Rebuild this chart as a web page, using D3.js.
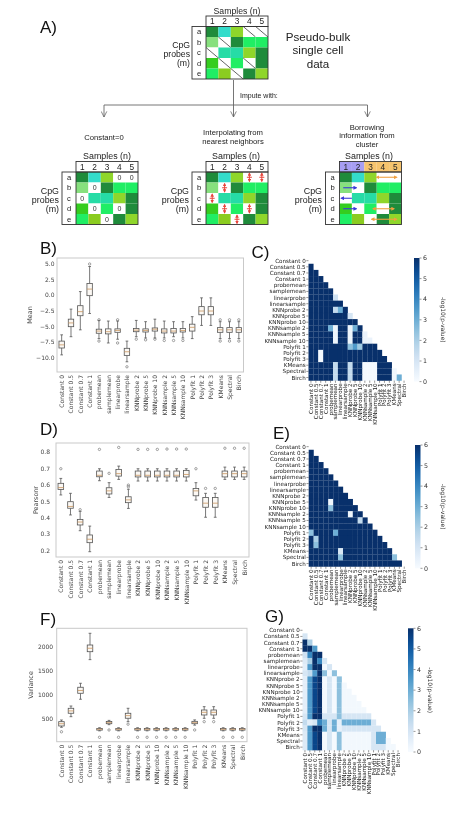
<!DOCTYPE html>
<html>
<head>
<meta charset="utf-8">
<script src="https://cdn.jsdelivr.net/npm/d3@7"></script>
<style>
  body { margin: 0; background: #fff; }
  svg { display: block; filter: blur(0.3px); }
</style>
</head>
<body>
<svg id="fig" width="474" height="820"></svg>
<script>
// imputation methods, same order on every axis
const methods = ['Constant 0', 'Constant 0.5', 'Constant 0.7', 'Constant 1', 'probemean', 'samplemean',
  'linearprobe', 'linearsample', 'KNNprobe 2', 'KNNprobe 5', 'KNNprobe 10', 'KNNsample 2', 'KNNsample 5',
  'KNNsample 10', 'Polyfit 1', 'Polyfit 2', 'Polyfit 3', 'KMeans', 'Spectral', 'Birch'];

// toy matrix of panel A
const sampleIds = ['1', '2', '3', '4', '5'];
const probeIds = ['a', 'b', 'c', 'd', 'e'];
const toyLevels = [
  [0, 1, 2, null, null],
  [3, null, 0, 4, 4],
  [null, 5, 5, 2, 0],
  [6, null, 4, null, 0],
  [4, 7, null, 0, 2]
];
const sampleCluster = [0, 0, 1, 1, 1];
// borrowing arrows: row, from, to (column units), double headed, cluster
const borrowArrows = [
  [0, 3.0, 4.6, true, 1],
  [1, 0.3, 1.35, false, 0],
  [2, 1.0, 0.15, false, 0],
  [3, 0.3, 1.35, false, 0],
  [3, 2.7, 4.4, true, 1],
  [4, 2.6, 4.6, true, 1]
];

// box plot stats: [whisker low, q1, median, q3, whisker high]
const meanStats = [
  [-9.5, -8.4, -7.9, -7.3, -6.3], [-6.6, -5.0, -4.4, -3.8, -2.2], [-5.5, -3.25, -2.6, -1.65, 0.6],
  [-2.9, -0.05, 1.0, 1.9, 4.6], [-6.9, -6.05, -5.7, -5.4, -4.0], [-7.6, -6.15, -5.8, -5.35, -4.1],
  [-7.0, -5.9, -5.6, -5.35, -4.1], [-10.6, -9.6, -9.0, -8.45, -7.3], [-6.6, -5.8, -5.55, -5.3, -4.0],
  [-6.8, -5.85, -5.6, -5.35, -4.2], [-6.8, -5.7, -5.4, -5.2, -3.8], [-6.8, -6.0, -5.7, -5.35, -4.1],
  [-6.6, -6.0, -5.7, -5.3, -4.2], [-6.8, -5.85, -5.6, -5.3, -4.2], [-6.9, -5.7, -5.1, -4.6, -3.4],
  [-4.8, -3.1, -2.5, -1.8, -0.4], [-4.8, -3.1, -2.5, -1.8, -0.4], [-6.9, -5.9, -5.5, -5.15, -4.2],
  [-6.9, -5.9, -5.5, -5.15, -4.2], [-6.9, -5.9, -5.5, -5.15, -4.2]
];
const meanFliers = [[], [], [], [5.0], [-3.9, -7.3], [], [-3.9, -7.6], [-11.4], [-7.0], [-7.1], [-7.0],
  [-7.2], [-7.2], [-7.2], [], [], [], [-3.9, -7.3], [-3.9, -7.3], [-3.9, -7.3]];

const pearsonStats = [
  [0.54, 0.574, 0.585, 0.611, 0.641], [0.418, 0.459, 0.47, 0.499, 0.55], [0.322, 0.357, 0.375, 0.391, 0.44],
  [0.194, 0.249, 0.27, 0.296, 0.35], [0.627, 0.651, 0.66, 0.686, 0.70], [0.525, 0.546, 0.565, 0.584, 0.615],
  [0.635, 0.655, 0.67, 0.696, 0.716], [0.458, 0.493, 0.51, 0.529, 0.575], [0.625, 0.65, 0.66, 0.686, 0.70],
  [0.625, 0.65, 0.66, 0.686, 0.70], [0.625, 0.65, 0.66, 0.686, 0.70], [0.625, 0.65, 0.66, 0.686, 0.70],
  [0.625, 0.65, 0.66, 0.686, 0.70], [0.625, 0.65, 0.665, 0.69, 0.70], [0.509, 0.535, 0.565, 0.58, 0.615],
  [0.404, 0.465, 0.49, 0.525, 0.55], [0.404, 0.465, 0.49, 0.525, 0.55], [0.635, 0.65, 0.67, 0.686, 0.71],
  [0.635, 0.65, 0.67, 0.686, 0.71], [0.635, 0.65, 0.67, 0.686, 0.71]
];
const pearsonFliers = [[0.70], [], [0.45], [], [0.818], [0.672], [0.83], [0.59, 0.60], [0.818], [0.818],
  [0.818], [0.82], [0.82], [0.82], [0.70], [0.58], [0.58], [0.825], [0.825], [0.825]];

const varianceStats = [
  [315, 342, 390, 433, 468], [538, 610, 660, 715, 763], [905, 1031, 1090, 1158, 1242],
  [1740, 1907, 1980, 2048, 2295], [240, 255, 273, 290, 305], [370, 390, 412, 435, 460],
  [240, 255, 273, 290, 305], [433, 505, 560, 610, 715], [240, 255, 273, 290, 305],
  [240, 255, 273, 290, 305], [240, 255, 273, 290, 305], [240, 255, 273, 290, 305],
  [240, 255, 273, 290, 305], [240, 255, 273, 290, 305], [360, 390, 412, 440, 470],
  [504, 574, 630, 679, 749], [504, 574, 630, 679, 749], [240, 255, 273, 290, 305],
  [240, 255, 273, 290, 305], [240, 255, 273, 290, 305]
];
const varianceFliers = [[220], [], [], [], [104], [258], [104], [380], [104], [104], [104], [104], [104],
  [104], [258], [433], [433], [104], [104], [104]];

// -log10(p-value), lower triangle, row i holds columns 0..i-1
const pvalMean = [
  [],
  [6],
  [6, 6],
  [6, 6, 6],
  [6, 6, 6, 6],
  [6, 6, 6, 6, 6],
  [6, 6, 6, 6, 6, 1.2],
  [6, 6, 6, 6, 6, 6, 6],
  [6, 6, 6, 6, 6, 1.5, 3, 6],
  [6, 6, 6, 6, 6, 6, 6, 6, 1.0],
  [6, 6, 6, 6, 6, 6, 6, 6, 6, 6],
  [6, 6, 6, 6, 3, 0.3, 6, 6, 0.3, 3, 6],
  [6, 6, 6, 6, 6, 0.3, 6, 6, 0.3, 6, 6, 0.4],
  [6, 6, 6, 6, 6, 0.3, 6, 6, 0.3, 6, 6, 0.4, 0.4],
  [6, 6, 6, 6, 6, 6, 6, 6, 2.5, 3.5, 2.2, 6, 6, 6],
  [6, 6, 0.1, 6, 6, 6, 6, 6, 6, 6, 6, 6, 6, 6, 6],
  [6, 6, 0.1, 6, 6, 6, 6, 6, 6, 6, 6, 6, 6, 6, 6, 6],
  [6, 6, 6, 6, 6, 1.5, 6, 6, 1.5, 6, 6, 0.1, 0.1, 0.1, 6, 6, 6],
  [6, 6, 6, 6, 6, 1.5, 6, 6, 1.5, 6, 6, 0.1, 0.1, 0.1, 6, 6, 6, 0.2],
  [6, 6, 6, 6, 6, 1.5, 6, 6, 1.5, 6, 6, 0.1, 0.1, 0.1, 6, 6, 6, 0.2, 3]
];
const pvalPearson = [
  [],
  [6],
  [6, 6],
  [6, 6, 6],
  [6, 6, 6, 6],
  [6, 6, 6, 6, 6],
  [6, 6, 6, 6, 6, 6],
  [6, 6, 6, 6, 6, 6, 6],
  [6, 6, 6, 6, 6, 6, 6, 6],
  [6, 6, 6, 6, 0.2, 6, 6, 6, 6],
  [6, 6, 6, 6, 2.5, 6, 6, 6, 6, 6],
  [6, 6, 6, 6, 6, 6, 6, 6, 0.3, 6, 6],
  [6, 6, 6, 6, 6, 6, 6, 6, 6, 6, 1.5, 6],
  [6, 6, 6, 6, 6, 6, 6, 6, 6, 6, 6, 6, 6],
  [2.5, 6, 6, 6, 6, 3, 6, 6, 6, 6, 6, 6, 6, 6],
  [6, 2, 6, 6, 6, 6, 6, 6, 6, 6, 6, 6, 6, 6, 6],
  [6, 2.5, 6, 6, 6, 6, 6, 6, 6, 6, 6, 6, 6, 6, 6, 6],
  [6, 6, 6, 6, 6, 6, 1, 6, 6, 6, 6, 6, 6, 6, 6, 6, 6],
  [6, 6, 6, 6, 6, 6, 2.5, 6, 6, 6, 6, 6, 6, 6, 6, 6, 6, 2.5],
  [6, 6, 6, 6, 6, 6, 6, 6, 6, 6, 6, 6, 6, 6, 6, 6, 6, 6, 6]
];
const pvalVariance = [
  [],
  [1],
  [6, 2],
  [6, 6, 3.5],
  [1.2, 4, 6, 6],
  [0.8, 2, 6, 4, 1],
  [0.6, 3.5, 6, 6, 0.1, 1],
  [1, 1.5, 3.5, 6, 2.5, 0.1, 2.5],
  [0.6, 3.5, 5.5, 6, 0.1, 1, 0.1, 2.5],
  [0.6, 3.5, 5.5, 6, 0.1, 1, 0.1, 2.5, 0.15],
  [0.6, 3.5, 5.5, 6, 0.1, 1, 0.1, 2.5, 0.15, 0.15],
  [0.6, 3.5, 5.5, 6, 0.1, 1, 0.1, 2.5, 0.15, 0.15, 0.15],
  [0.6, 3.5, 5.5, 6, 0.1, 1, 0.1, 2.5, 0.15, 0.15, 0.15, 0.15],
  [0.6, 3.5, 5.5, 6, 0.1, 1, 0.1, 2.5, 0.15, 0.15, 0.15, 0.15, 0.15],
  [1, 3.5, 6, 6, 1, 1, 1, 2.5, 1, 1, 1, 1, 1, 1],
  [1.5, 0.6, 1, 4, 3, 1, 3, 0.5, 3, 3, 3, 3, 3, 3, 1],
  [1, 3.5, 6, 6, 3, 1, 3, 0.5, 1, 1, 1, 1, 1, 1, 1, 1],
  [0.8, 3.5, 5.5, 6, 0.1, 1, 0.1, 2.5, 0.15, 0.15, 0.15, 0.15, 0.15, 0.15, 1, 3, 3],
  [0.8, 3.5, 5.5, 6, 0.1, 1, 0.1, 2.5, 0.15, 0.15, 0.15, 0.15, 0.15, 0.15, 1, 3, 3, 0.15],
  [0.8, 3.5, 5.5, 6, 0.1, 1, 0.1, 2.5, 0.15, 0.15, 0.15, 0.15, 0.15, 0.15, 1, 1, 1, 0.15, 0.15]
];
const colorTicks = [0, 1, 2, 3, 4, 5, 6];

const svg = d3.select('#fig');
const defs = svg.append('defs');
const SANS = 'Liberation Sans, Arial, sans-serif';
const PLOT = 'DejaVu Sans, sans-serif';

function solidMarker(id, color) {
  defs.append('marker').attr('id', id)
    .attr('viewBox', '0 0 10 10').attr('refX', 7).attr('refY', 5)
    .attr('markerWidth', 3.6).attr('markerHeight', 3.6)
    .attr('orient', 'auto-start-reverse')
    .append('path').attr('d', 'M0,0L10,5L0,10z').attr('fill', color);
}
solidMarker('mRed', '#e8433a');
solidMarker('mBlue', '#3a3ad8');
solidMarker('mOrange', '#f0a040');
defs.append('marker').attr('id', 'mGrey')
  .attr('viewBox', '0 0 10 10').attr('refX', 9).attr('refY', 5)
  .attr('markerUnits', 'userSpaceOnUse')
  .attr('markerWidth', 7).attr('markerHeight', 7)
  .attr('orient', 'auto')
  .append('path').attr('d', 'M1,1L9,5L1,9').attr('fill', 'none')
  .attr('stroke', '#666').attr('stroke-width', 1.1);

function panelLetter(txt, x, y) {
  svg.append('text').attr('x', x).attr('y', y)
    .attr('font-family', SANS).attr('font-size', 17).attr('fill', '#111')
    .text(txt);
}

// ---------- panel A ----------
const toyColor = d3.scaleOrdinal()
  .domain(d3.range(8))
  .range(['#1f8b3b', '#34dccb', '#8fd62b', '#87e07e', '#20ee64', '#26dca6', '#35cd1f', '#8bcc20']);
const clusterColor = ['#a79ef2', '#f6c46e'];

function toyMatrix(gx, hy, mode) {
  const cw = 12.4, ch = 10.5, hh = 10.5;
  const x = d3.scaleBand().domain(sampleIds).range([gx, gx + cw * 5]);
  const y = d3.scaleBand().domain(probeIds).range([hy + hh, hy + hh + ch * 5]);
  const g = svg.append('g');
  if (mode === 'cluster') {
    g.selectAll('.hc').data(sampleIds).join('rect')
      .attr('x', d => x(d)).attr('y', hy)
      .attr('width', x.bandwidth()).attr('height', hh)
      .attr('fill', (d, i) => clusterColor[sampleCluster[i]]);
  }
  g.selectAll('.hd').data(sampleIds).join('text')
    .attr('x', d => x(d) + x.bandwidth() / 2).attr('y', hy + hh / 2 + 3)
    .attr('text-anchor', 'middle').attr('font-family', SANS).attr('font-size', 8.3)
    .attr('fill', '#222').text(d => d);
  g.selectAll('.rl').data(probeIds).join('text')
    .attr('x', gx - 7).attr('y', d => y(d) + y.bandwidth() / 2 + 2.6)
    .attr('text-anchor', 'middle').attr('font-family', SANS).attr('font-size', 7.6)
    .attr('fill', '#222').text(d => d);
  probeIds.forEach((p, r) => {
    sampleIds.forEach((s, c) => {
      const lv = toyLevels[r][c];
      g.append('rect').attr('x', x(s)).attr('y', y(p))
        .attr('width', x.bandwidth()).attr('height', y.bandwidth())
        .attr('fill', lv === null ? '#fff' : toyColor(lv));
      if (lv !== null) return;
      const cx = x(s) + x.bandwidth() / 2, cy = y(p) + y.bandwidth() / 2;
      if (mode === 'raw') {
        g.append('line').attr('x1', x(s)).attr('y1', y(p))
          .attr('x2', x(s) + x.bandwidth()).attr('y2', y(p) + y.bandwidth())
          .attr('stroke', '#222').attr('stroke-width', 0.7);
      } else if (mode === 'zero') {
        g.append('text').attr('x', cx).attr('y', cy + 2.5).attr('text-anchor', 'middle')
          .attr('font-family', SANS).attr('font-size', 7).attr('fill', '#333').text('0');
      } else if (mode === 'interp') {
        g.append('line').attr('x1', cx).attr('x2', cx)
          .attr('y1', cy - 4).attr('y2', cy + 4)
          .attr('stroke', '#e8433a').attr('stroke-width', 1)
          .attr('marker-start', 'url(#mRed)').attr('marker-end', 'url(#mRed)');
        g.append('line').attr('x1', cx - 2.5).attr('x2', cx + 2.5)
          .attr('y1', cy).attr('y2', cy)
          .attr('stroke', '#e8433a').attr('stroke-width', 1);
      }
    });
  });
  if (mode === 'cluster') {
    const cu = d3.scaleLinear().domain([0, 5]).range([gx, gx + cw * 5]);
    borrowArrows.forEach(a => {
      const cy = y(probeIds[a[0]]) + y.bandwidth() / 2;
      const col = a[4] === 0 ? '#3a3ad8' : '#f0a040';
      const mk = a[4] === 0 ? 'url(#mBlue)' : 'url(#mOrange)';
      const ln = g.append('line').attr('x1', cu(a[1])).attr('x2', cu(a[2]))
        .attr('y1', cy).attr('y2', cy)
        .attr('stroke', col).attr('stroke-width', 1.1)
        .attr('marker-end', mk);
      if (a[3]) ln.attr('marker-start', mk);
    });
  }
  // table borders
  g.append('rect').attr('x', gx).attr('y', hy).attr('width', cw * 5).attr('height', hh)
    .attr('fill', 'none').attr('stroke', '#333').attr('stroke-width', 0.9);
  g.append('rect').attr('x', gx - 14).attr('y', hy + hh).attr('width', cw * 5 + 14).attr('height', ch * 5)
    .attr('fill', 'none').attr('stroke', '#333').attr('stroke-width', 0.9);
  g.append('line').attr('x1', gx).attr('x2', gx).attr('y1', hy + hh).attr('y2', hy + hh + ch * 5)
    .attr('stroke', '#333').attr('stroke-width', 0.9);
  return g;
}

function textLines(lines, x, y0, dy, size, anchor) {
  lines.forEach((t, i) => {
    svg.append('text').attr('x', x).attr('y', y0 + i * dy)
      .attr('text-anchor', anchor).attr('font-family', SANS).attr('font-size', size)
      .attr('fill', '#222').text(t);
  });
}

panelLetter('A)', 40, 33);
toyMatrix(206, 16, 'raw');
textLines(['Samples (n)'], 237, 13.5, 0, 8.7, 'middle');
textLines(['CpG', 'probes', '(m)'], 190, 48, 8.8, 8.7, 'end');
textLines(['Pseudo-bulk', 'single cell', 'data'], 318, 40.5, 13.6, 11.6, 'middle');

svg.append('path').attr('d', 'M233.5,80V117').attr('stroke', '#666').attr('fill', 'none')
  .attr('stroke-width', 0.9).attr('marker-end', 'url(#mGrey)');
svg.append('path').attr('d', 'M104,105H367.5').attr('stroke', '#666').attr('fill', 'none').attr('stroke-width', 0.9);
svg.append('path').attr('d', 'M104,105V117').attr('stroke', '#666').attr('fill', 'none')
  .attr('stroke-width', 0.9).attr('marker-end', 'url(#mGrey)');
svg.append('path').attr('d', 'M367.5,105V117').attr('stroke', '#666').attr('fill', 'none')
  .attr('stroke-width', 0.9).attr('marker-end', 'url(#mGrey)');
textLines(['Impute with:'], 240, 97.5, 0, 7, 'start');

textLines(['Constant=0'], 104, 139.5, 0, 7.7, 'middle');
textLines(['Interpolating from', 'nearest neighbors'], 233, 134.5, 9, 7.7, 'middle');
textLines(['Borrowing', 'information from', 'cluster'], 367, 130, 8.4, 7.7, 'middle');

toyMatrix(76, 161.5, 'zero');
textLines(['Samples (n)'], 107, 158.5, 0, 8.9, 'middle');
textLines(['CpG', 'probes', '(m)'], 59, 193.5, 9.3, 8.9, 'end');
toyMatrix(206, 161.5, 'interp');
textLines(['Samples (n)'], 236, 158.5, 0, 8.9, 'middle');
textLines(['CpG', 'probes', '(m)'], 189, 193.5, 9.3, 8.9, 'end');
toyMatrix(339.5, 161.5, 'cluster');
textLines(['Samples (n)'], 369, 158.5, 0, 8.9, 'middle');
textLines(['CpG', 'probes', '(m)'], 322, 193.5, 9.3, 8.9, 'end');

// ---------- box plots ----------
function boxPanel(fr, stats, fliers, domain, ticks, fmt, yLabel, labelX, tickGap) {
  const x = d3.scaleBand().domain(methods).range([fr.x0, fr.x1]);
  const y = d3.scaleLinear().domain(domain).range([fr.y1, fr.y0]);
  const g = svg.append('g');
  const bw = x.bandwidth() * 0.58;
  g.append('rect').attr('x', fr.x0).attr('y', fr.y0)
    .attr('width', fr.x1 - fr.x0).attr('height', fr.y1 - fr.y0)
    .attr('fill', 'none').attr('stroke', '#c9c9c9').attr('stroke-width', 1);
  g.selectAll('.yt').data(ticks).join('text')
    .attr('x', fr.x0 - tickGap).attr('y', d => y(d)).attr('dy', '0.35em')
    .attr('text-anchor', 'end').attr('font-family', PLOT).attr('font-size', 6)
    .attr('fill', '#444').text(fmt);
  g.append('text')
    .attr('transform', `translate(${labelX},${(fr.y0 + fr.y1) / 2}) rotate(-90)`)
    .attr('text-anchor', 'middle').attr('font-family', PLOT).attr('font-size', 6.4)
    .attr('fill', '#444').text(yLabel);
  methods.forEach((m, i) => {
    const s = stats[i];
    const cx = x(m) + x.bandwidth() / 2;
    const bx = g.append('g');
    bx.append('line').attr('x1', cx).attr('x2', cx).attr('y1', y(s[0])).attr('y2', y(s[1]))
      .attr('stroke', '#555').attr('stroke-width', 0.8);
    bx.append('line').attr('x1', cx).attr('x2', cx).attr('y1', y(s[3])).attr('y2', y(s[4]))
      .attr('stroke', '#555').attr('stroke-width', 0.8);
    [s[0], s[4]].forEach(v => {
      bx.append('line').attr('x1', cx - bw / 4).attr('x2', cx + bw / 4)
        .attr('y1', y(v)).attr('y2', y(v)).attr('stroke', '#555').attr('stroke-width', 0.8);
    });
    bx.append('rect').attr('x', cx - bw / 2).attr('y', y(s[3]))
      .attr('width', bw).attr('height', Math.max(1, y(s[1]) - y(s[3])))
      .attr('fill', '#fbf8f4').attr('stroke', '#555').attr('stroke-width', 0.8);
    bx.append('line').attr('x1', cx - bw / 2).attr('x2', cx + bw / 2)
      .attr('y1', y(s[2])).attr('y2', y(s[2])).attr('stroke', '#c9955f').attr('stroke-width', 0.8);
    fliers[i].forEach(v => {
      bx.append('circle').attr('cx', cx).attr('cy', y(v)).attr('r', 1.2)
        .attr('fill', 'none').attr('stroke', '#666').attr('stroke-width', 0.6);
    });
  });
  g.selectAll('.xt').data(methods).join('text')
    .attr('transform', d => `translate(${x(d) + x.bandwidth() / 2 + 0.3},${fr.y1 + 3}) rotate(-90)`)
    .attr('dy', '0.35em')
    .attr('text-anchor', 'end').attr('font-family', PLOT).attr('font-size', 6)
    .attr('fill', '#444').text(d => d);
}

panelLetter('B)', 40, 253.5);
boxPanel({ x0: 57, x1: 243.5, y0: 258, y1: 372 }, meanStats, meanFliers, [-12.23, 5.96],
  [-10, -7.5, -5, -2.5, 0, 2.5, 5], d3.format('.1f'), 'Mean', 32, 2.5);

panelLetter('D)', 40, 435);
boxPanel({ x0: 56, x1: 249, y0: 443, y1: 557 }, pearsonStats, pearsonFliers, [0.1616, 0.857],
  [0.2, 0.3, 0.4, 0.5, 0.6, 0.7, 0.8], d3.format('.1f'), 'Pearsonr', 38, 6);

panelLetter('F)', 40, 625);
boxPanel({ x0: 56.7, x1: 247, y0: 628.3, y1: 741.7 }, varianceStats, varianceFliers, [11, 2400],
  [500, 1000, 1500, 2000], d3.format('d'), 'Variance', 33, 3.5);

// ---------- heatmaps ----------
const blues = d3.scaleSequential(d3.interpolateBlues).domain([0, 6]);

function heatPanel(vals, gx, gy, cb, labelX, gradId) {
  const cw = 4.9, ch = 6.15;
  const x = d3.scaleBand().domain(methods).range([gx, gx + cw * 20]);
  const y = d3.scaleBand().domain(methods).range([gy, gy + ch * 20]);
  const g = svg.append('g');
  const cells = [];
  vals.forEach((row, i) => row.forEach((v, j) => cells.push({ r: methods[i], c: methods[j], v })));
  g.selectAll('rect.cell').data(cells).join('rect').attr('class', 'cell')
    .attr('x', d => x(d.c)).attr('y', d => y(d.r))
    .attr('width', x.bandwidth() + 0.15).attr('height', y.bandwidth() + 0.15)
    .attr('fill', d => blues(d.v));
  // row labels with ticks
  g.selectAll('.rt').data(methods).join('line')
    .attr('x1', gx - 2.2).attr('x2', gx).attr('y1', d => y(d) + ch / 2).attr('y2', d => y(d) + ch / 2)
    .attr('stroke', '#333').attr('stroke-width', 0.5);
  g.selectAll('.rl').data(methods).join('text')
    .attr('x', gx - 2.8).attr('y', d => y(d) + ch / 2).attr('dy', '0.36em')
    .attr('text-anchor', 'end').attr('font-family', PLOT).attr('font-size', 5.6)
    .attr('fill', '#1a1a1a').text(d => d);
  const yb = gy + ch * 20;
  g.selectAll('.ct').data(methods).join('line')
    .attr('x1', d => x(d) + cw / 2).attr('x2', d => x(d) + cw / 2).attr('y1', yb).attr('y2', yb + 2.2)
    .attr('stroke', '#333').attr('stroke-width', 0.5);
  g.selectAll('.cl').data(methods).join('text')
    .attr('transform', d => `translate(${x(d) + cw / 2},${yb + 2.8}) rotate(-90)`)
    .attr('dy', '0.36em')
    .attr('text-anchor', 'end').attr('font-family', PLOT).attr('font-size', 5.6)
    .attr('fill', '#1a1a1a').text(d => d);
  // colour bar
  const grad = defs.append('linearGradient').attr('id', gradId)
    .attr('x1', 0).attr('y1', 1).attr('x2', 0).attr('y2', 0);
  d3.range(0, 1.0001, 0.1).forEach(t => {
    grad.append('stop').attr('offset', t).attr('stop-color', blues(t * 6));
  });
  const cy = d3.scaleLinear().domain([0, 6]).range([cb.y1, cb.y0]);
  g.append('rect').attr('x', cb.x).attr('y', cb.y0).attr('width', 5.5).attr('height', cb.y1 - cb.y0)
    .attr('fill', `url(#${gradId})`);
  g.selectAll('.cbt').data(colorTicks).join('line')
    .attr('x1', cb.x + 5.5).attr('x2', cb.x + 7.5).attr('y1', d => cy(d)).attr('y2', d => cy(d))
    .attr('stroke', '#333').attr('stroke-width', 0.5);
  g.selectAll('.cbl').data(colorTicks).join('text')
    .attr('x', cb.x + 9).attr('y', d => cy(d)).attr('dy', '0.36em')
    .attr('font-family', PLOT).attr('font-size', 6.3).attr('fill', '#333').text(d => d);
  g.append('text')
    .attr('transform', `translate(${labelX},${(cb.y0 + cb.y1) / 2}) rotate(90)`)
    .attr('text-anchor', 'middle').attr('font-family', PLOT).attr('font-size', 6)
    .attr('fill', '#333').text('-log10(p-value)');
}

panelLetter('C)', 251.5, 257.5);
heatPanel(pvalMean, 308.5, 257.6, { x: 414, y0: 258, y1: 381.6 }, 441, 'gC');
panelLetter('E)', 273, 438.5);
heatPanel(pvalPearson, 308.7, 443.6, { x: 415, y0: 445, y1: 568.3 }, 441, 'gE');
panelLetter('G)', 265, 621.5);
heatPanel(pvalVariance, 302.5, 627.2, { x: 408, y0: 628.3, y1: 752 }, 428, 'gG');
</script>
</body>
</html>
